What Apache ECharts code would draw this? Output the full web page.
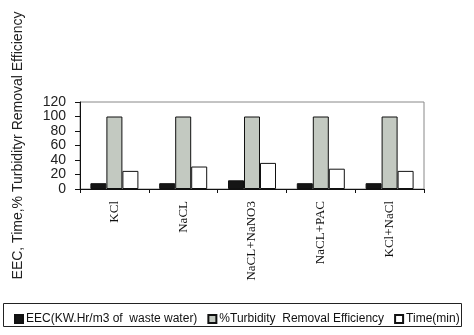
<!DOCTYPE html>
<html><head><meta charset="utf-8">
<script src="https://cdn.jsdelivr.net/npm/echarts@6/dist/echarts.min.js"></script>
<style>html,body{margin:0;padding:0;background:#fff}#c{width:474px;height:335px}</style>
</head><body><div id="c"></div>
<script>
const categories = ['KCl', 'NaCL', 'NaCL+NaNO3', 'NaCL+PAC', 'KCl+NaCl'];
const eec = [8, 8, 12, 8, 8];
const turbidity = [100, 100, 100, 100, 100];
const time = [25, 31, 36, 28, 25];
const seriesNames = ['EEC(KW.Hr/m3 of  waste water)', '%Turbidity  Removal Efficiency', 'Time(min)'];
const yTitle = 'EEC, Time,% Turbidityr Removal Efficiency';

const chart = echarts.init(document.getElementById('c'));
const bar = (name, data, color) => ({
  name, type: 'bar', data, barWidth: 16, barGap: '0%',
  itemStyle: { color, borderColor: '#111', borderWidth: 1 }
});
chart.setOption({
  animation: false,
  backgroundColor: '#fff',
  grid: { left: 80, top: 102, right: 50, bottom: 146, show: true, borderColor: '#888', borderWidth: 1 },
  graphic: [{ type: 'rect', shape: { x: 3.5, y: 303.5, width: 458, height: 23 }, style: { fill: 'none', stroke: '#222', lineWidth: 1 } }],
  legend: {
    left: 9, top: 308, itemWidth: 8, itemHeight: 8, itemGap: 10,
    textStyle: { fontFamily: 'Liberation Sans', fontSize: 12, color: '#111', padding: [0, 0, 0, -2] },
    data: seriesNames.map(n => ({ name: n, icon: 'rect' }))
  },
  xAxis: {
    type: 'category', data: categories,
    axisLine: { lineStyle: { color: '#111' } },
    axisTick: { show: true, length: 4, lineStyle: { color: '#111' } },
    axisLabel: { rotate: 90, margin: 12, fontFamily: 'Liberation Serif', fontSize: 13, color: '#111' }
  },
  yAxis: {
    type: 'value', min: 0, max: 120, interval: 20,
    name: yTitle, nameLocation: 'middle', nameGap: 55, nameRotate: 90,
    nameTextStyle: { fontFamily: 'Liberation Sans', fontSize: 14, color: '#222' },
    axisLine: { show: true, lineStyle: { color: '#111' } },
    axisTick: { show: true, length: 5, lineStyle: { color: '#111' } },
    axisLabel: { margin: 14, fontFamily: 'Liberation Sans', fontSize: 14, lineHeight: 14, color: '#222',
      showMinLabel: true, showMaxLabel: true, hideOverlap: false },
    splitLine: { show: false }
  },
  series: [
    bar(seriesNames[0], eec, '#151515'),
    bar(seriesNames[1], turbidity, '#c3c9c1'),
    bar(seriesNames[2], time, '#ffffff')
  ]
});
</script></body></html>
